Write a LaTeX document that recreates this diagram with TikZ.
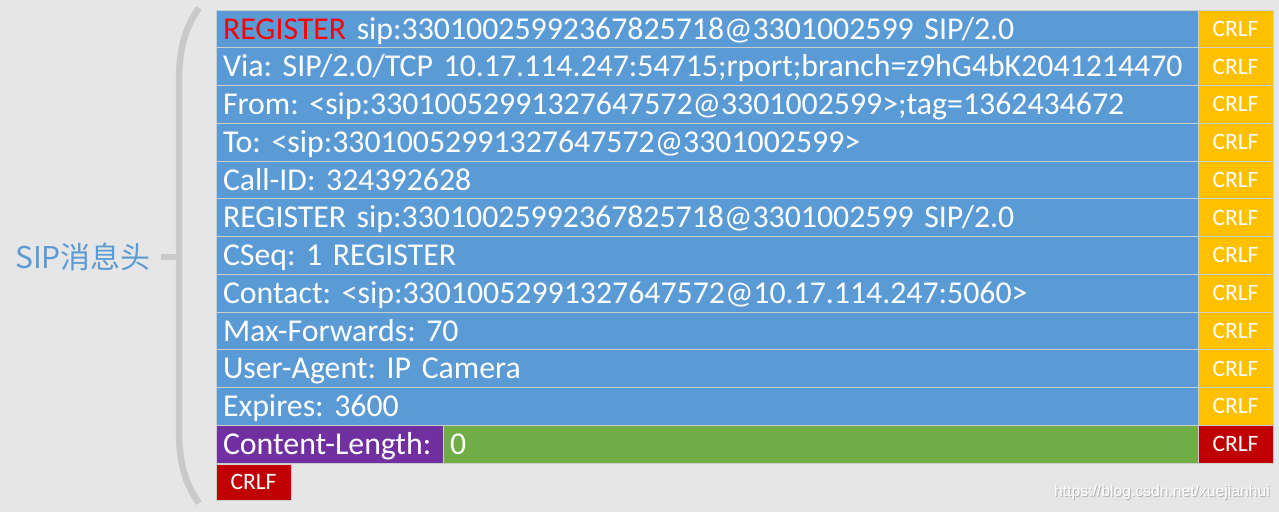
\documentclass[tikz,border=0pt]{standalone}
\usepackage{fontspec}
\setmainfont{Carlito}
\newfontfamily\cjkfont{Noto Sans CJK SC}
\newfontfamily\wmfont{Liberation Sans}
\usetikzlibrary{positioning}
\frenchspacing
\definecolor{bgcol}{RGB}{230,230,230}
\definecolor{hdrblue}{RGB}{91,155,213}
\definecolor{crlfyel}{RGB}{255,192,0}
\definecolor{crlfred}{RGB}{192,0,0}
\definecolor{lenpur}{RGB}{112,48,160}
\definecolor{lengrn}{RGB}{112,173,71}
\definecolor{regred}{RGB}{255,0,0}
\definecolor{linecol}{RGB}{205,205,205}
\colorlet{bracecol}{black!21}
\tikzstyle{field}=[draw=linecol, line width=1pt, outer sep=0pt, text=white, anchor=north west, minimum height=37.75pt, inner xsep=7pt, inner ysep=0pt, align=left, text height=20.5pt, text depth=0pt, font=\fontsize{31.8}{33}\selectfont]
\tikzstyle{header}=[field, fill=hdrblue, text width=968pt]
\tikzstyle{crlf}=[draw=linecol, line width=1pt, outer sep=0pt, text=white, anchor=north west, minimum width=75pt, minimum height=37.75pt, inner sep=0pt, text height=15pt, text depth=0pt, font=\fontsize{23.5}{24}\selectfont]
\tikzstyle{brace}=[bracecol, line width=6.5pt]

\begin{document}
\begin{tikzpicture}[x=1pt,y=-1pt]
    \fill[bgcol] (0,0) rectangle (1279,512);
    \useasboundingbox (0,0) rectangle (1279,512);

    \node[header] (h1) at (216,10) {\textcolor{regred}{REGISTER} sip:33010025992367825718@3301002599 SIP/2.0};
    \node[header] (h2) at (h1.south west) {Via: SIP/2.0/TCP 10.17.114.247:54715;rport;branch=z9hG4bK2041214470};
    \node[header] (h3) at (h2.south west) {From: <sip:33010052991327647572@3301002599>;tag=1362434672};
    \node[header] (h4) at (h3.south west) {To: <sip:33010052991327647572@3301002599>};
    \node[header] (h5) at (h4.south west) {Call-ID: 324392628};
    \node[header] (h6) at (h5.south west) {REGISTER sip:33010025992367825718@3301002599 SIP/2.0};
    \node[header] (h7) at (h6.south west) {CSeq: 1 REGISTER};
    \node[header] (h8) at (h7.south west) {Contact: <sip:33010052991327647572@10.17.114.247:5060>};
    \node[header] (h9) at (h8.south west) {Max-Forwards: 70};
    \node[header] (h10) at (h9.south west) {User-Agent: IP Camera};
    \node[header] (h11) at (h10.south west) {Expires: 3600};
    \node[field, fill=lenpur, text width=213pt] (len) at (h11.south west) {Content-Length:};
    \node[field, fill=lengrn, text width=741pt] (lenval) at (len.north east) {0};

    \foreach \i in {1,...,11}
        \node[crlf, fill=crlfyel] (c\i) at (h\i.north east) {CRLF};
    \node[crlf, fill=crlfred] (c12) at (lenval.north east) {CRLF};
    \node[crlf, fill=crlfred, minimum height=36pt] (c13) at ([yshift=-1pt]len.south west) {CRLF};

    % brace
    \coordinate (bt) at (179,257);
    \draw[brace] (199,8) .. controls (186,26) and (179,48) .. (179,80) -- (179,430)
        .. controls (179,465) and (186,485) .. (199,503);
    \node[inner sep=0pt, text=hdrblue, font=\cjkfont\fontsize{30}{30}\selectfont] (sip) at (83,257) {SIP消息头};
    \draw[brace, shorten <=10pt] (sip.east) -- (bt);

    \node[anchor=south east, inner sep=0pt, text=black!30, font=\wmfont\fontsize{15.7}{16}\selectfont] (wmshadow) at (1271,501) {https://blog.csdn.net/xuejianhui};
    \node[anchor=south east, inner sep=0pt, text=white, font=\wmfont\fontsize{15.7}{16}\selectfont] (wm) at (1270,500) {https://blog.csdn.net/xuejianhui};
\end{tikzpicture}
\end{document}
